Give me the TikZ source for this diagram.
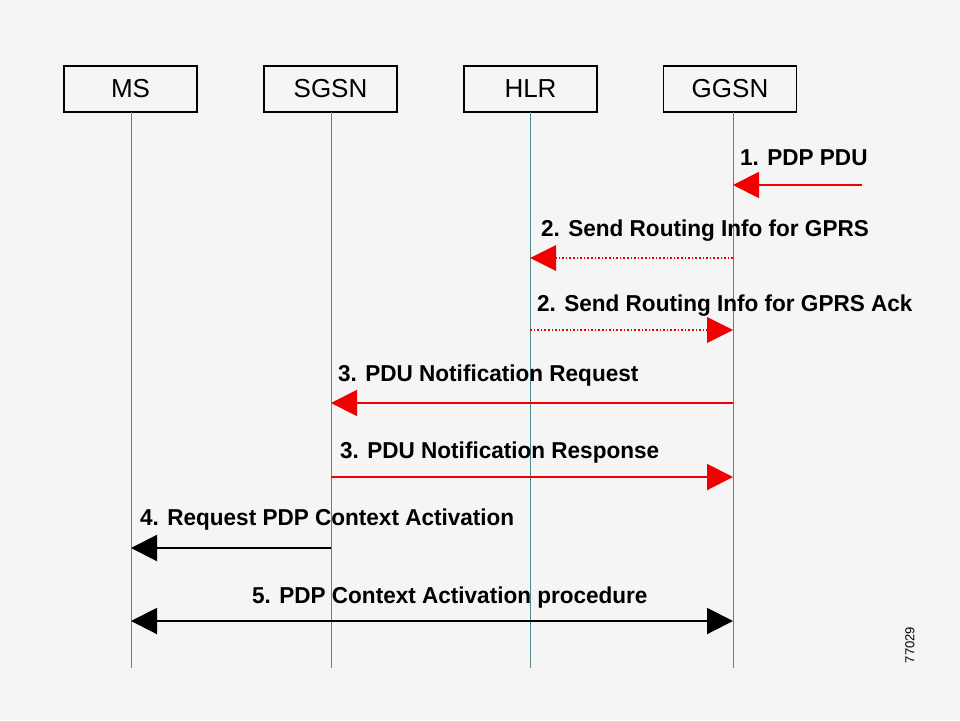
\documentclass[tikz,border=0pt]{standalone}
\usepackage{fontspec}
\setmainfont{Liberation Sans}
\usetikzlibrary{arrows.meta}
\definecolor{ln}{HTML}{4F8A8B}
\definecolor{rd}{HTML}{F00000}
\begin{document}
\begin{tikzpicture}[x=1pt,y=-1pt,
 box/.style={draw=black,line width=1.2pt,minimum width=133pt,minimum height=46pt,inner sep=0pt,font=\fontsize{26}{28}\selectfont},
 life/.style={ln,line width=1pt},
 msg/.style={line width=2pt,-{Triangle[length=26pt,width=26pt]}},
 dot/.style={line width=1.6pt,dotted,-{Triangle[length=26pt,width=26pt,line width=0pt]}},
 lbl/.style={anchor=west,inner sep=0pt,font=\bfseries\fontsize{23}{25}\selectfont,xscale=0.98,transform shape}]
\fill[white!96!black] (0,0) rectangle (960,720);
\useasboundingbox (0,0) rectangle (960,720);
\node[box] (ms) at (130.5,89) {MS};
\node[box] (sgsn) at (330.5,89) {SGSN};
\node[box] (hlr) at (530.5,89) {HLR};
\node[box] (ggsn) at (730,89) {GGSN};
\coordinate (msE) at (131,668); \coordinate (sgE) at (331,668);
\coordinate (hlE) at (530,668); \coordinate (ggE) at (733,668);
\draw[life] (131,112) -- (msE);
\draw[life] (331,112) -- (sgE);
\draw[life] (530,112) -- (hlE);
\draw[life] (733,112) -- (ggE);
\coordinate (s1) at (862,185); \coordinate (e1) at (733,185);
\draw[msg,rd] (s1) -- (e1);
\node[lbl] (l1) at (740,158) {1. PDP PDU};
\coordinate (s2) at (733,258); \coordinate (e2) at (530,258);
\draw[dot,rd] (s2) -- (e2);
\node[lbl] (l2) at (541,231) {2. Send Routing Info for GPRS};
\coordinate (s3) at (530,330); \coordinate (e3) at (733,330);
\draw[dot,rd] (s3) -- (e3);
\node[lbl] (l3) at (537,306) {2. Send Routing Info for GPRS Ack};
\coordinate (s4) at (733,403); \coordinate (e4) at (331,403);
\draw[msg,rd] (s4) -- (e4);
\node[lbl] (l4) at (338,376) {3. PDU Notification Request};
\coordinate (s5) at (331,477); \coordinate (e5) at (733,477);
\draw[msg,rd] (s5) -- (e5);
\node[lbl] (l5) at (340,453) {3. PDU Notification Response};
\coordinate (s6) at (331,548); \coordinate (e6) at (131,548);
\draw[msg,black] (s6) -- (e6);
\node[lbl] (l6) at (140,520) {4. Request PDP Context Activation};
\coordinate (s7) at (131,621); \coordinate (e7) at (733,621);
\draw[msg,black,{Triangle[length=26pt,width=26pt]}-{Triangle[length=26pt,width=26pt]}] (s7) -- (e7);
\node[lbl] (l7) at (252,598) {5. PDP Context Activation procedure};
\node[rotate=90,font=\fontsize{13}{14}\selectfont] (id) at (910,645) {77029};
\end{tikzpicture}
\end{document}
